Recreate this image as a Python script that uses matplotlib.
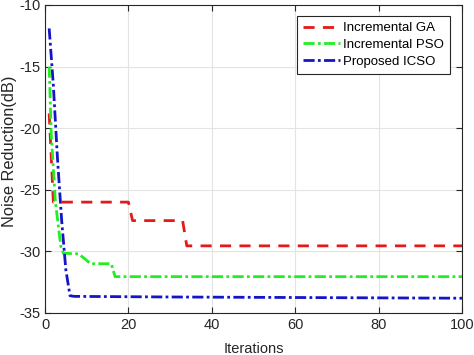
import matplotlib
matplotlib.use("Agg")
import matplotlib.pyplot as plt
import numpy as np

plt.rcParams['axes.unicode_minus'] = False
plt.rcParams['font.family'] = ['Liberation Sans', 'DejaVu Sans']

# Incremental GA
ga_points_x = [1, 2, 20, 21, 33, 34, 100]
ga_points_y = [-18.8, -26.0, -26.0, -27.5, -27.5, -29.55, -29.55]

# Incremental PSO
pso_points_x = [1, 1.5, 2.5, 3.8, 4.4, 8, 9.2, 10.9, 15.9, 16.8, 100]
pso_points_y = [-15.0, -20.5, -26.0, -29.6, -30.15, -30.2, -30.5, -31.0, -31.0, -32.05, -32.05]

# Proposed ICSO
icso_points_x = [1, 2, 3, 4, 5, 6, 7, 30, 100]
icso_points_y = [-11.9, -16.5, -22.5, -27.5, -31.5, -33.6, -33.65, -33.7, -33.8]

x_ticks = [0, 20, 40, 60, 80, 100]
y_ticks = [-35, -30, -25, -20, -15, -10]

fig = plt.figure(figsize=(4.74, 3.55), dpi=100)
ax = fig.add_axes([45/474, 1 - 313/355, (462-45)/474, (313-5)/355])

ax.plot(ga_points_x, ga_points_y, color='#e41a1a', linestyle=(0, (4, 3)), linewidth=2.0, label='Incremental GA')
ax.plot(pso_points_x, pso_points_y, color='#22ee22', linestyle=(0, (4, 1.2, 1, 1.2)), linewidth=2.0, label='Incremental PSO')
ax.plot(icso_points_x, icso_points_y, color='#1515c8', linestyle=(0, (4, 1.2, 1, 1.2)), linewidth=2.0, label='Proposed ICSO')

ax.set_xlim(0, 100)
ax.set_ylim(-35, -10)
ax.set_xticks(x_ticks)
ax.set_yticks(y_ticks)
ax.grid(True, color='#e3e3e3', linewidth=0.8)
ax.set_axisbelow(True)
for s in ax.spines.values():
    s.set_color('#262626')
    s.set_linewidth(0.8)
ax.tick_params(direction='in', top=True, right=True, length=4, color='#262626',
               labelsize=10.5, labelcolor='#262626')
ax.set_xlabel('Iterations', fontsize=10.5, color='#262626', labelpad=7)
ax.set_ylabel('Noise Reduction(dB)', fontsize=11.8, color='#262626')
ax.yaxis.set_label_coords(-0.068, 0.525)

leg = ax.legend(loc='upper right', bbox_to_anchor=(0.971, 0.964), borderaxespad=0, fancybox=False, framealpha=1,
                edgecolor='#262626', handlelength=2.8, handletextpad=0.25, borderpad=0.45,
                labelspacing=0.35, prop={'size': 9.5})
leg.get_frame().set_linewidth(0.8)

fig.savefig('out.png', dpi=100)
